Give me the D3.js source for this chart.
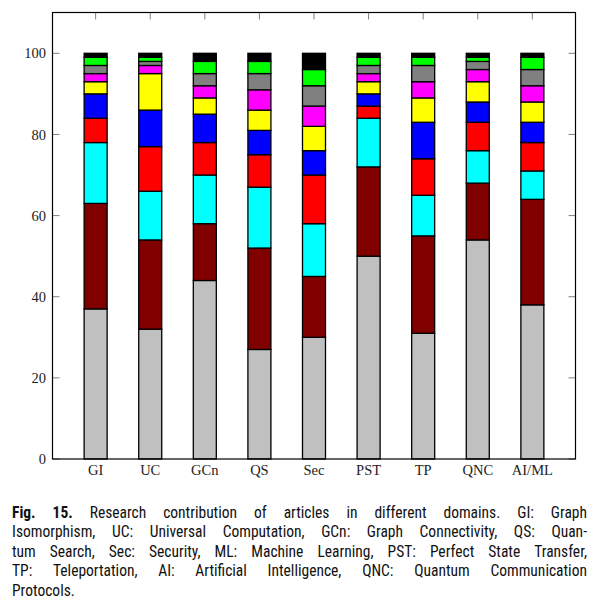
<!DOCTYPE html>
<html>
<head>
<meta charset="utf-8">
<script src="https://cdn.jsdelivr.net/npm/d3@7"></script>
<style>
  body { margin: 0; background: #fff; }
  svg { display: block; }
</style>
</head>
<body>
<svg id="chart" width="598" height="609"></svg>
<script>
// domains on the x axis
var domains = ["GI", "UC", "GCn", "QS", "Sec", "PST", "TP", "QNC", "AI/ML"];

// stacked segments, bottom to top, one array per colour
var seg1  = [37, 32, 44, 27, 30, 50, 31, 54, 38];
var seg2  = [26, 22, 14, 25, 15, 22, 24, 14, 26];
var seg3  = [15, 12, 12, 15, 13, 12, 10,  8,  7];
var seg4  = [ 6, 11,  8,  8, 12,  3,  9,  7,  7];
var seg5  = [ 6,  9,  7,  6,  6,  3,  9,  5,  5];
var seg6  = [ 3,  9,  4,  5,  6,  3,  6,  5,  5];
var seg7  = [ 2,  2,  3,  5,  5,  2,  4,  3,  4];
var seg8  = [ 2,  1,  3,  4,  5,  2,  4,  2,  4];
var seg9  = [ 2,  1,  3,  3,  4,  2,  2,  1,  3];
var seg10 = [ 1,  1,  2,  2,  4,  1,  1,  1,  1];

var segColors = ["#c0c0c0", "#800000", "#00ffff", "#ff0000", "#0000ff",
                 "#ffff00", "#ff00ff", "#808080", "#00ff00", "#000000"];

var yTicks = [0, 20, 40, 60, 80, 100];

var captionLines = [
  "Research contribution of articles in different domains. GI: Graph",
  "Isomorphism, UC: Universal Computation, GCn: Graph Connectivity, QS: Quan-",
  "tum Search, Sec: Security, ML: Machine Learning, PST: Perfect State Transfer,",
  "TP: Teleportation, AI: Artificial Intelligence, QNC: Quantum Communication",
  "Protocols."
];

(function() {
var segs = [seg1, seg2, seg3, seg4, seg5, seg6, seg7, seg8, seg9, seg10];
var rows = domains.map(function(d, i) {
  var r = { domain: d };
  segs.forEach(function(s, k) { r["s" + k] = s[i]; });
  return r;
});
var keys = segs.map(function(s, k) { return "s" + k; });

var svg = d3.select("#chart");
var pLeft = 52.5, pRight = 575.5, pTop = 12.5, pBottom = 459;

var x = d3.scalePoint().domain(domains).range([pLeft, pRight]).padding(0.79);
var y = d3.scaleLinear().domain([0, 100]).range([pBottom, 53.3]);
var barW = 23;

var stack = d3.stack().keys(keys)(rows);

// inner ticks, gray
var tickLen = 7;
var ticks = svg.append("g").attr("stroke", "#808080").attr("stroke-width", 1);
yTicks.forEach(function(t) {
  ticks.append("line").attr("x1", pLeft).attr("x2", pLeft + tickLen)
    .attr("y1", y(t)).attr("y2", y(t));
  ticks.append("line").attr("x1", pRight).attr("x2", pRight - tickLen)
    .attr("y1", y(t)).attr("y2", y(t));
});
domains.forEach(function(d) {
  ticks.append("line").attr("x1", x(d)).attr("x2", x(d))
    .attr("y1", pTop).attr("y2", pTop + tickLen);
});

var g = svg.append("g");
g.selectAll("g.layer")
  .data(stack)
  .enter().append("g")
  .attr("class", "layer")
  .attr("fill", function(d, k) { return segColors[k]; })
  .selectAll("rect")
  .data(function(d) { return d; })
  .enter().append("rect")
  .attr("x", function(d) { return x(d.data.domain) - barW / 2; })
  .attr("y", function(d) { return y(d[1]); })
  .attr("width", barW)
  .attr("height", function(d) { return y(d[0]) - y(d[1]); })
  .attr("stroke", "#000")
  .attr("stroke-width", 1.3);

svg.append("rect")
  .attr("x", pLeft).attr("y", pTop)
  .attr("width", pRight - pLeft).attr("height", pBottom - pTop)
  .attr("fill", "none").attr("stroke", "#000").attr("stroke-width", 1.2);

var serif = "'Liberation Serif', 'DejaVu Serif', serif";
svg.append("g").selectAll("text")
  .data(yTicks)
  .enter().append("text")
  .attr("x", pLeft - 6.5)
  .attr("y", function(d) { return y(d); })
  .attr("dy", "0.35em")
  .attr("text-anchor", "end")
  .style("font-family", serif)
  .style("font-size", "14.5px")
  .attr("fill", "#222")
  .text(function(d) { return d; });

svg.append("g").selectAll("text")
  .data(domains)
  .enter().append("text")
  .attr("x", function(d) { return x(d); })
  .attr("y", 475)
  .attr("text-anchor", "middle")
  .style("font-family", serif)
  .style("font-size", "14.5px")
  .attr("fill", "#222")
  .text(function(d) { return d; });

// caption, justified word by word, glyphs a little squeezed
var capFont = "'Liberation Sans Narrow', 'Roboto Condensed', Roboto, 'Liberation Sans', sans-serif";
var capLeft = 12, capRight = 587, capSize = 16.5, squeeze = 0.94;
var cap = svg.append("g")
  .style("font-family", capFont)
  .style("font-size", capSize + "px")
  .attr("fill", "#111");

captionLines.forEach(function(line, li) {
  var words = line.split(" ");
  var items = [];
  if (li === 0) {
    items.push({ t: "Fig.", bold: true });
    items.push({ t: "15.", bold: true });
  }
  words.forEach(function(w) { items.push({ t: w, bold: false }); });
  var yy = 518 + li * 19.4;
  var nodes = items.map(function(it) {
    return cap.append("text")
      .attr("y", yy)
      .style("font-weight", it.bold ? "bold" : "normal")
      .text(it.t);
  });
  var widths = nodes.map(function(n) { return n.node().getComputedTextLength() * squeeze; });
  var total = d3.sum(widths);
  var last = li === captionLines.length - 1;
  var avail = capRight - capLeft;
  var gap = last ? capSize * 0.25 : (avail - total) / (items.length - 1);
  if (gap < 3) {
    // line too long: squeeze it harder instead of overflowing
    var k = (avail - 3 * (items.length - 1)) / total;
    widths = widths.map(function(w) { return w * k; });
    gap = 3;
  }
  var cx = capLeft;
  nodes.forEach(function(n, i) {
    n.attr("x", cx)
      .attr("textLength", widths[i])
      .attr("lengthAdjust", "spacingAndGlyphs");
    cx += widths[i] + gap;
  });
});
})();
</script>
</body>
</html>
